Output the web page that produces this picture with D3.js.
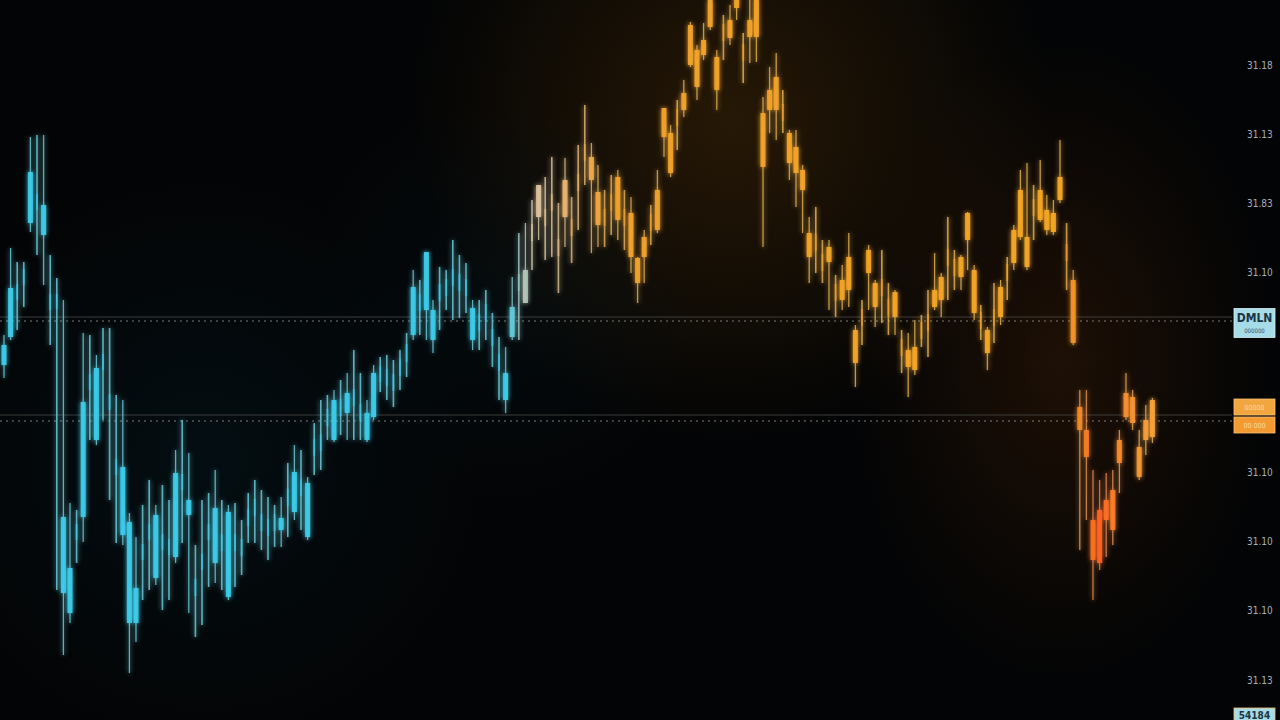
<!DOCTYPE html>
<html><head><meta charset="utf-8">
<script src="https://cdn.jsdelivr.net/npm/d3@7"></script>
<style>html,body{margin:0;padding:0;background:#030405;overflow:hidden}svg{display:block}</style>
</head><body>
<svg id="chart" width="1280" height="720"></svg>
<script>
// ---------- data ----------
const highs = [33.85,34.72,34.58,34.58,35.83,35.85,35.85,34.65,34.42,34.20,
32.17,32.10,33.87,33.85,33.65,33.92,33.92,33.25,33.20,32.07,
31.83,32.15,32.40,32.15,32.35,32.20,32.70,33.00,32.67,31.75,
32.20,32.27,32.50,32.20,32.15,32.17,32.00,32.27,32.40,32.30,
32.23,32.15,32.23,32.57,32.75,32.70,32.43,32.97,33.20,33.25,
33.30,33.40,33.47,33.70,33.47,33.20,33.55,33.63,33.65,33.60,
33.70,33.87,34.50,34.40,34.68,34.20,34.53,34.50,34.80,34.65,
34.57,34.20,34.20,34.30,34.07,33.83,33.73,34.43,34.87,34.97,
35.20,35.35,35.43,35.63,35.17,35.62,35.23,35.75,36.15,35.77,
35.55,35.30,35.45,35.50,35.30,35.23,34.63,34.90,35.15,35.50,
36.12,35.95,36.20,36.40,36.98,36.75,36.97,37.30,36.70,37.05,
37.15,37.30,36.87,37.25,37.30,36.23,36.53,36.67,36.30,35.90,
35.90,35.55,35.03,35.13,34.80,34.80,34.45,34.55,34.87,33.95,
34.20,34.75,34.40,34.70,34.37,34.30,33.90,33.87,34.00,34.05,
34.30,34.67,34.47,35.03,34.70,34.65,35.08,34.55,34.15,33.93,
34.37,34.40,34.63,34.95,35.50,35.57,35.35,35.60,35.25,35.20,
35.80,34.97,34.50,33.30,33.30,32.50,32.40,32.47,32.50,32.90,
33.47,33.30,32.90,33.15,33.22];
const lows = [33.42,33.80,33.90,34.13,34.88,34.65,34.35,33.75,31.30,30.65,
30.97,31.57,31.78,32.80,32.75,33.00,32.20,31.77,31.75,30.47,
30.78,31.20,31.30,31.35,31.10,31.20,31.57,31.77,31.07,30.83,
30.95,31.33,31.37,31.30,31.20,31.33,31.45,31.77,31.77,31.70,
31.60,31.73,31.73,31.83,32.00,31.90,31.80,32.45,32.50,32.80,
32.78,32.85,32.80,32.80,32.80,32.78,33.00,33.28,33.20,33.13,
33.30,33.43,33.80,33.85,33.80,33.67,33.90,34.10,34.00,34.02,
34.07,33.70,33.70,33.80,33.53,33.20,33.07,33.80,33.80,34.17,
34.50,34.80,34.60,34.63,34.27,34.73,34.57,34.90,35.35,34.67,
34.73,34.73,34.85,34.80,34.70,34.47,34.17,34.37,34.75,34.87,
35.63,35.43,35.70,36.03,36.53,36.20,36.60,36.90,36.10,36.60,
36.75,37.00,36.37,36.57,36.58,34.73,35.87,35.80,35.87,35.40,
35.13,34.87,34.37,34.47,34.37,34.10,34.03,34.10,34.13,33.33,
33.75,34.10,33.93,33.97,33.85,33.85,33.47,33.23,33.45,33.73,
33.63,34.10,34.03,34.20,34.30,34.30,34.50,34.00,33.80,33.50,
33.77,33.95,34.20,34.50,34.80,34.50,34.80,34.98,34.85,34.85,
35.17,34.30,33.75,31.70,32.00,31.20,31.50,31.63,31.75,32.27,
33.00,32.90,32.40,32.65,32.77];
const opens = [33.55,33.83,34.26,34.41,34.97,35.16,34.85,34.16,34.17,31.27,
31.07,31.86,32.03,33.36,32.80,33.56,33.16,32.51,31.85,30.97,
30.97,31.66,31.86,31.42,31.76,31.71,31.63,32.36,32.05,31.30,
31.56,31.86,31.57,31.75,31.23,31.75,31.70,32.00,32.10,31.95,
31.90,31.95,31.90,32.20,32.08,32.30,31.83,32.70,32.75,33.00,
32.80,33.10,33.07,33.20,33.05,32.80,33.03,33.44,33.40,33.35,
33.50,33.64,33.85,34.15,34.10,33.80,34.25,34.30,34.40,34.35,
34.30,33.80,33.95,34.05,33.80,33.55,33.20,33.83,34.35,34.17,
34.85,35.03,35.00,35.15,34.70,35.03,34.90,35.35,35.65,35.40,
34.95,35.00,35.15,35.00,35.00,34.63,34.37,34.63,34.95,34.90,
35.83,35.47,36.00,36.10,36.55,36.33,36.65,36.93,36.30,36.85,
36.82,37.12,36.65,36.83,36.83,35.53,36.10,36.10,36.05,35.57,
35.47,35.30,34.63,34.75,34.55,34.58,34.25,34.20,34.30,33.57,
34.00,34.47,34.13,34.30,34.10,34.03,33.70,33.53,33.50,33.87,
33.95,34.13,34.20,34.60,34.50,34.43,34.80,34.07,33.97,33.67,
34.00,34.03,34.45,34.57,34.83,34.53,35.10,35.00,34.90,34.88,
35.20,34.65,34.40,33.13,32.90,32.00,31.57,32.00,31.90,32.57,
33.03,32.97,32.73,32.80,32.83];
const closes = [33.75,34.32,34.30,34.45,35.48,35.20,35.15,34.20,34.20,32.03,
31.52,31.90,33.18,33.40,33.52,33.60,33.20,32.55,32.53,31.98,
31.32,31.70,31.90,32.05,31.80,31.75,32.47,32.40,32.20,31.35,
31.60,31.90,32.12,31.80,32.08,31.80,31.75,32.05,32.15,32.00,
31.95,32.00,32.02,32.25,32.48,32.35,32.37,32.75,32.80,33.05,
33.20,33.15,33.27,33.25,33.10,33.07,33.47,33.48,33.45,33.40,
33.55,33.70,34.33,34.20,34.68,34.10,34.30,34.35,34.45,34.40,
34.35,34.12,34.00,34.10,33.85,33.60,33.47,34.13,34.40,34.50,
34.90,35.35,35.05,35.20,34.75,35.40,34.95,35.40,35.70,35.63,
35.28,35.05,35.20,35.43,35.05,35.07,34.62,34.83,35.00,35.30,
36.12,35.87,36.05,36.27,36.95,36.70,36.80,37.20,36.63,36.90,
37.00,37.25,36.70,37.00,37.22,36.07,36.30,36.43,36.10,35.87,
35.73,35.50,34.87,34.80,34.60,34.73,34.30,34.40,34.63,33.90,
34.05,34.70,34.37,34.35,34.15,34.28,33.75,33.70,33.73,33.92,
34.00,34.30,34.43,34.65,34.55,34.63,35.07,34.50,34.02,33.90,
34.05,34.33,34.50,34.90,35.30,34.83,35.15,35.30,35.10,35.07,
35.43,34.70,33.77,32.90,32.63,31.60,32.10,32.20,32.30,32.80,
33.27,33.23,32.43,33.00,33.20];

const tickValues = [36.55, 35.86, 35.17, 34.48, 32.48, 31.79, 31.10, 30.40];
const tickLabels = ["31.18", "31.13", "31.83", "31.10", "31.10", "31.10", "31.10", "31.13"];
const solidLevels = [34.03, 33.05];
const dashedLevels = [33.99, 32.99];
const tagValues = [33.97, 33.13, 32.95, 30.05];
const tagTexts = ["DMLN", "", "", "54184"];
const tagSubTexts = ["000000", "00000", "00  000", ""];

// ---------- setup ----------
const W = 1280, H = 720;
const svg = d3.select("#chart");
const n = highs.length;
const candles = d3.range(n).map(i => ({i, h: highs[i], l: lows[i], o: opens[i], c: closes[i]}));

const x = d3.scaleLinear().domain([0, n - 1]).range([4, 1152.4]);
const y = d3.scaleLinear().domain([30.00, 37.20]).range([H, 0]);

const bodyColor = d3.scaleLinear()
  .domain([0, 76, 80, 86, 92, 160, 163, 166, 169, 174])
  .range(["#3ccbe8", "#3ccbe8", "#d9c4a6", "#eab066", "#f0a22c", "#f4a624", "#f28a26", "#ff6222", "#f68a2c", "#f6a23a"])
  .interpolate(d3.interpolateRgb);
const wickColor = i => d3.interpolateRgb(bodyColor(i), "#b0c4bc")(i < 80 ? 0.4 : 0.28);

const defs = svg.append("defs");
function radial(id, color, op) {
  const g = defs.append("radialGradient").attr("id", id);
  g.append("stop").attr("offset", "0%").attr("stop-color", color).attr("stop-opacity", op);
  g.append("stop").attr("offset", "100%").attr("stop-color", color).attr("stop-opacity", 0);
}
radial("gAmber", "#4a2c06", 0.5);
radial("gOrange", "#3e1e06", 0.45);
radial("gTeal", "#05202a", 0.35);
radial("gBlueMid", "#051a22", 0.3);

const f = defs.append("filter").attr("id", "glow").attr("x", "-50%").attr("y", "-10%").attr("width", "200%").attr("height", "120%");
f.append("feGaussianBlur").attr("in", "SourceGraphic").attr("stdDeviation", 2.4).attr("result", "b");
const m = f.append("feMerge");
m.append("feMergeNode").attr("in", "b");
m.append("feMergeNode").attr("in", "SourceGraphic");

svg.append("rect").attr("width", W).attr("height", H).attr("fill", "#030405");
const bg = svg.append("g");
bg.append("ellipse").attr("cx", x(110)).attr("cy", y(36.0)).attr("rx", 320).attr("ry", 320).attr("fill", "url(#gAmber)");
bg.append("ellipse").attr("cx", x(160)).attr("cy", y(33.6)).attr("rx", 210).attr("ry", 320).attr("fill", "url(#gOrange)");
bg.append("ellipse").attr("cx", x(30)).attr("cy", y(32.6)).attr("rx", 280).attr("ry", 280).attr("fill", "url(#gTeal)");
bg.append("ellipse").attr("cx", x(75)).attr("cy", y(34.2)).attr("rx", 200).attr("ry", 200).attr("fill", "url(#gBlueMid)");

// horizontal reference lines
const lineX1 = 0, lineX2 = 1232;
svg.append("g").selectAll("line").data(solidLevels).join("line")
  .attr("x1", lineX1).attr("x2", lineX2)
  .attr("y1", d => y(d)).attr("y2", d => y(d))
  .attr("stroke", "#4a4a48").attr("stroke-width", 1).attr("opacity", 0.8);
svg.append("g").selectAll("line").data(dashedLevels).join("line")
  .attr("x1", lineX1).attr("x2", lineX2)
  .attr("y1", d => y(d)).attr("y2", d => y(d))
  .attr("stroke", "#a4a49c").attr("stroke-width", 1).attr("stroke-dasharray", "2,4").attr("opacity", 0.75);

// candles
const cg = svg.append("g").attr("filter", "url(#glow)");
const bodyW = 5;
const isThin = d => Math.abs(y(d.o) - y(d.c)) < 8;
cg.selectAll("line.wick").data(candles).join("line").attr("class", "wick")
  .attr("x1", d => x(d.i)).attr("x2", d => x(d.i))
  .attr("y1", d => y(d.h)).attr("y2", d => y(d.l))
  .attr("stroke", d => wickColor(d.i)).attr("stroke-width", d => isThin(d) ? 1.6 : 1.3).attr("opacity", 0.85);
cg.selectAll("rect.body").data(candles).join("rect").attr("class", "body")
  .attr("x", d => x(d.i) - (isThin(d) ? 1 : bodyW / 2))
  .attr("width", d => isThin(d) ? 2 : bodyW)
  .attr("y", d => y(Math.max(d.o, d.c)) - (isThin(d) ? 6 : 0))
  .attr("height", d => isThin(d) ? Math.abs(y(d.o) - y(d.c)) + 12 : Math.abs(y(d.o) - y(d.c)))
  .attr("fill", d => bodyColor(d.i))
  .attr("opacity", d => isThin(d) ? 0.6 : 0.95);

// right axis
const axis = d3.axisRight(y).tickValues(tickValues).tickFormat((d, k) => tickLabels[k]).tickSize(0);
const ag = svg.append("g").attr("transform", "translate(1244,0)").call(axis);
ag.select(".domain").remove();
ag.selectAll("text").attr("fill", "#a4aeb6").attr("font-size", 10)
  .attr("font-family", "'DejaVu Sans Condensed', 'Liberation Sans Narrow', sans-serif").attr("dx", 0);

// tags
const tagFill = ["#a6dbe8", "#f2a640", "#f39a32", "#a6dbe8"];
const tagH = [29, 16, 16, 14];
const tg = svg.append("g");
tagValues.forEach((v, k) => {
  const cy = y(v);
  tg.append("rect").attr("x", 1234).attr("y", cy - tagH[k] / 2).attr("width", 41).attr("height", tagH[k])
    .attr("fill", tagFill[k]).attr("stroke", k === 0 ? "#d8f0f6" : "#f8c070").attr("stroke-width", 0.8);
  if (tagTexts[k]) {
    tg.append("text").attr("x", 1254.5).attr("y", k === 0 ? cy - 1 : cy + 4)
      .attr("text-anchor", "middle").attr("font-size", k === 0 ? 12 : 10).attr("font-weight", "bold")
      .attr("font-family", "'DejaVu Sans Condensed', sans-serif")
      .attr("fill", "#1c3440").text(tagTexts[k]);
  }
  if (tagSubTexts[k]) {
    tg.append("text").attr("x", 1254.5).attr("y", k === 0 ? cy + 10 : cy + 3)
      .attr("text-anchor", "middle").attr("font-size", k === 0 ? 6 : 7)
      .attr("font-family", "'DejaVu Sans Condensed', sans-serif")
      .attr("fill", k === 0 ? "#35505a" : "#fbd9a0").text(tagSubTexts[k]);
  }
});
</script>
</body></html>
